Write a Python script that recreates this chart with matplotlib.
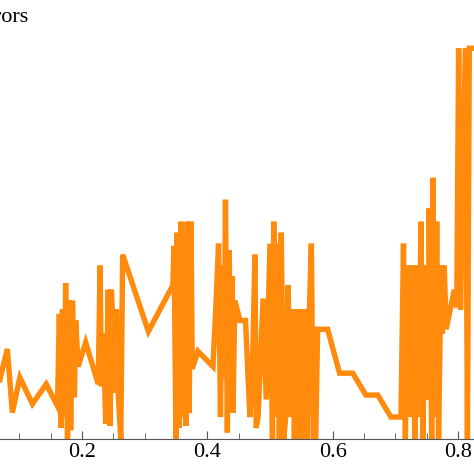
import matplotlib
matplotlib.use("Agg")
import matplotlib.pyplot as plt
from matplotlib.ticker import MultipleLocator

plt.rcParams['font.family'] = ['Liberation Serif', 'DejaVu Serif']

# positions along the unit interval and error counts
x_vals = [0.069, 0.081, 0.089, 0.101, 0.121, 0.143, 0.161,
          0.164, 0.167, 0.169, 0.172, 0.174, 0.177, 0.180, 0.182, 0.185, 0.188, 0.190, 0.194,
          0.206, 0.226, 0.229, 0.231, 0.234, 0.238, 0.242, 0.245, 0.247, 0.250, 0.252, 0.255,
          0.258, 0.262, 0.265, 0.306, 0.345,
          0.347, 0.350, 0.352, 0.355, 0.358, 0.360, 0.363, 0.366, 0.368, 0.371, 0.374, 0.376,
          0.385, 0.409,
          0.414, 0.418, 0.421, 0.424, 0.427, 0.429, 0.432, 0.435, 0.437, 0.440, 0.441, 0.444,
          0.452, 0.461, 0.468, 0.472, 0.476, 0.478, 0.481, 0.489, 0.494,
          0.500, 0.504, 0.506, 0.509, 0.512, 0.515, 0.518, 0.522, 0.525, 0.529, 0.532, 0.536,
          0.539, 0.542, 0.545, 0.549, 0.553, 0.556, 0.559, 0.563, 0.566, 0.569, 0.573, 0.576,
          0.592, 0.611, 0.632, 0.653, 0.672, 0.693, 0.709,
          0.713, 0.716, 0.720, 0.724, 0.728, 0.731, 0.734, 0.737, 0.741, 0.744, 0.748, 0.752,
          0.754, 0.758, 0.760, 0.763, 0.766, 0.769, 0.773, 0.775, 0.778, 0.781, 0.794, 0.798,
          0.801, 0.804, 0.808, 0.812, 0.815, 0.818, 0.824]
errors = [2.7, 4.1, 1.2, 2.8, 1.6, 2.5, 1.5,
          5.7, 0.5, 5.9, 1.0, 7.1, 0.0, 6.3, 0.4, 6.3, 1.9, 5.4, 3.3,
          4.4, 2.5, 7.9, 2.4, 4.8, 0.7, 6.8, 0.6, 6.8, 4.8, 2.1, 5.9,
          2.0, 0.0, 8.4, 4.9, 7.0,
          8.8, 0.0, 9.4, 0.5, 9.9, 1.0, 9.4, 0.6, 9.9, 1.2, 9.9, 3.2,
          4.0, 3.3,
          6.2, 8.9, 1.0, 7.9, 2.8, 10.9, 0.3, 8.6, 2.1, 7.4, 1.2, 6.3,
          5.4, 5.4, 1.0, 3.0, 8.4, 0.5, 1.0, 6.4, 1.8,
          8.9, 0.0, 9.9, 1.0, 8.9, 0.0, 9.4, 0.0, 1.0, 7.0, 1.0, 5.9,
          0.0, 5.9, 0.0, 5.9, 0.0, 5.9, 0.0, 5.9, 8.9, 0.0, 0.0, 5.0,
          5.0, 3.0, 3.0, 2.0, 2.0, 1.0, 1.0,
          8.9, 0.0, 7.9, 1.0, 7.9, 0.0, 7.9, 1.0, 9.9, 0.0, 7.9, 1.8,
          10.5, 0.0, 11.9, 1.0, 9.9, 0.0, 7.9, 4.8, 7.9, 5.0, 6.8, 6.0,
          17.8, 5.9, 12.9, 17.8, 0.0, 17.8, 17.8]

fig = plt.figure(figsize=(4.74, 4.74), dpi=100)
ax = fig.add_axes([0, 35 / 474, 1, 439 / 474])
ax.plot(x_vals, errors, color='#ff8a0c', lw=3.9, solid_joinstyle='miter')
ax.set_xlim(0.0693, 0.8255)
ax.set_ylim(0, 20)

for s in ['top', 'right', 'left']:
    ax.spines[s].set_visible(False)
ax.spines['bottom'].set_color('#555555')
ax.set_yticks([])
ax.xaxis.set_major_locator(MultipleLocator(0.2))
ax.xaxis.set_minor_locator(MultipleLocator(0.05))
ax.tick_params(axis='x', direction='in', length=6, color='#555555', labelsize=16, pad=3)
ax.tick_params(axis='x', which='minor', direction='in', length=4, color='#555555')

fig.text(28 / 474, 1 - 22 / 474, 'Number of errors', ha='right', va='baseline', fontsize=16)

fig.savefig('out.png', dpi=100)
